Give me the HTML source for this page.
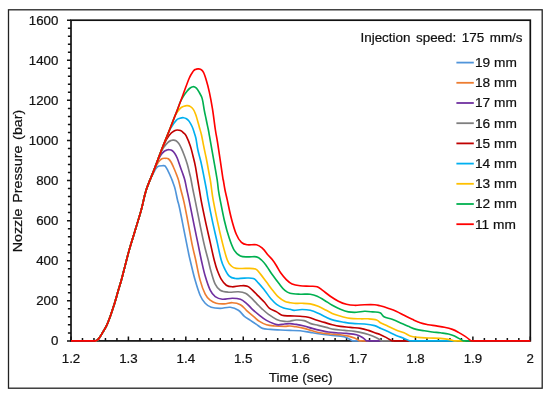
<!DOCTYPE html>
<html><head><meta charset="utf-8"><title>Nozzle pressure chart</title>
<style>
html,body{margin:0;padding:0;background:#fff;}
body{width:550px;height:398px;position:relative;overflow:hidden;font-family:"Liberation Sans",sans-serif;color:#111;}
.t{position:absolute;font-size:13.3px;line-height:16px;white-space:nowrap;-webkit-text-stroke:0.22px #111;}
.yl{text-align:right;width:40px;left:18.4px;}
.xl{text-align:center;width:40px;}
</style></head><body>
<svg width="550" height="398" viewBox="0 0 550 398" style="position:absolute;left:0;top:0">
<rect x="8.5" y="9.8" width="533.7" height="378.4" fill="#fff" stroke="#222" stroke-width="1.3"/>
<rect x="71.0" y="20.2" width="459.3" height="320.7" fill="none" stroke="#111" stroke-width="1.7"/>
<path d="M71.00 340.9v-4.5M82.48 340.9v-3M93.97 340.9v-3M105.45 340.9v-3M116.93 340.9v-3M128.41 340.9v-4.5M139.89 340.9v-3M151.38 340.9v-3M162.86 340.9v-3M174.34 340.9v-3M185.82 340.9v-4.5M197.31 340.9v-3M208.79 340.9v-3M220.27 340.9v-3M231.75 340.9v-3M243.24 340.9v-4.5M254.72 340.9v-3M266.20 340.9v-3M277.69 340.9v-3M289.17 340.9v-3M300.65 340.9v-4.5M312.13 340.9v-3M323.61 340.9v-3M335.10 340.9v-3M346.58 340.9v-3M358.06 340.9v-4.5M369.54 340.9v-3M381.03 340.9v-3M392.51 340.9v-3M403.99 340.9v-3M415.47 340.9v-4.5M426.96 340.9v-3M438.44 340.9v-3M449.92 340.9v-3M461.40 340.9v-3M472.89 340.9v-4.5M484.37 340.9v-3M495.85 340.9v-3M507.33 340.9v-3M518.82 340.9v-3M530.30 340.9v-4.5M71.0 340.90h-4.0M71.0 332.88h-3.1M71.0 324.86h-3.1M71.0 316.85h-3.1M71.0 308.83h-3.1M71.0 300.81h-4.0M71.0 292.79h-3.1M71.0 284.78h-3.1M71.0 276.76h-3.1M71.0 268.74h-3.1M71.0 260.72h-4.0M71.0 252.71h-3.1M71.0 244.69h-3.1M71.0 236.67h-3.1M71.0 228.65h-3.1M71.0 220.64h-4.0M71.0 212.62h-3.1M71.0 204.60h-3.1M71.0 196.58h-3.1M71.0 188.57h-3.1M71.0 180.55h-4.0M71.0 172.53h-3.1M71.0 164.51h-3.1M71.0 156.50h-3.1M71.0 148.48h-3.1M71.0 140.46h-4.0M71.0 132.44h-3.1M71.0 124.43h-3.1M71.0 116.41h-3.1M71.0 108.39h-3.1M71.0 100.37h-4.0M71.0 92.36h-3.1M71.0 84.34h-3.1M71.0 76.32h-3.1M71.0 68.31h-3.1M71.0 60.29h-4.0M71.0 52.27h-3.1M71.0 44.25h-3.1M71.0 36.23h-3.1M71.0 28.22h-3.1M71.0 20.20h-4.0" stroke="#111" stroke-width="1.5" fill="none"/>
<path d="M95.4 340.9C95.8 340.7 96.9 340.5 97.8 339.7C98.7 338.9 99.3 337.9 100.3 336.4C101.3 334.9 102.1 333.4 103.3 331.4C104.5 329.4 105.4 328.0 106.7 325.3C108.0 322.6 108.9 320.1 110.3 316.3C111.7 312.5 112.8 308.9 114.3 304.2C115.8 299.5 117.1 294.5 118.4 290.1C119.7 285.7 120.4 283.6 121.4 280.0C122.4 276.4 122.6 275.3 124.0 270.0C125.4 264.7 127.1 257.6 129.1 250.4C131.1 243.2 133.0 237.5 135.2 230.2C137.4 222.9 139.2 217.3 141.2 210.1C143.2 202.9 144.5 195.6 146.2 190.0C147.9 184.4 149.1 182.2 150.5 179.0C151.9 175.8 152.9 174.1 154.0 172.0C155.1 169.9 155.9 168.7 156.8 167.6C157.7 166.5 158.0 166.3 159.0 166.0C160.0 165.7 161.1 165.7 162.2 165.7C163.3 165.7 164.1 165.1 165.2 166.1C166.3 167.1 167.2 169.4 168.1 171.1C169.0 172.8 169.5 174.0 170.2 175.6C170.9 177.2 171.5 178.5 172.1 180.1C172.7 181.7 173.1 182.9 173.7 184.6C174.3 186.3 174.5 186.6 175.2 189.4C175.9 192.2 176.7 196.6 177.5 200.0C178.3 203.4 178.4 202.7 179.6 208.2C180.8 213.7 182.5 222.7 184.0 230.3C185.5 237.9 186.9 245.1 188.0 250.4C189.1 255.7 188.8 254.7 190.1 260.0C191.4 265.3 193.3 273.8 195.1 280.1C196.9 286.4 198.3 291.0 200.1 295.2C201.9 299.4 203.2 301.1 205.2 303.3C207.2 305.5 208.5 306.4 211.2 307.3C213.9 308.2 216.8 308.3 220.2 308.3C223.6 308.3 227.0 306.9 230.3 307.3C233.6 307.7 235.9 308.7 238.4 310.3C240.9 311.9 242.2 314.5 244.4 316.3C246.6 318.1 248.2 318.9 250.4 320.4C252.6 321.9 254.3 323.0 256.5 324.4C258.7 325.8 260.0 327.5 262.5 328.4C265.0 329.3 267.2 329.1 270.5 329.4C273.8 329.7 277.1 329.8 280.6 330.0C284.1 330.2 286.5 330.3 290.0 330.4C293.5 330.5 296.5 330.4 300.1 330.8C303.7 331.2 306.6 331.8 310.2 332.4C313.8 333.0 316.6 333.5 320.2 334.0C323.8 334.5 326.7 334.8 330.3 335.2C333.9 335.6 337.5 335.7 340.4 336.1C343.3 336.5 344.2 336.6 346.4 337.5C348.6 338.4 351.3 340.3 352.4 340.9L361.5 340.9" fill="none" stroke="#5095DA" stroke-width="1.65" stroke-linejoin="round" stroke-linecap="butt"/>
<path d="M95.4 340.9C95.8 340.7 96.9 340.5 97.8 339.7C98.7 338.9 99.3 337.9 100.3 336.4C101.3 334.9 102.1 333.4 103.3 331.4C104.5 329.4 105.4 328.0 106.7 325.3C108.0 322.6 108.9 320.1 110.3 316.3C111.7 312.5 112.8 308.9 114.3 304.2C115.8 299.5 117.1 294.5 118.4 290.1C119.7 285.7 120.4 283.6 121.4 280.0C122.4 276.4 122.6 275.3 124.0 270.0C125.4 264.7 127.1 257.6 129.1 250.4C131.1 243.2 133.0 237.5 135.2 230.2C137.4 222.9 139.2 217.3 141.2 210.1C143.2 202.9 144.0 196.9 146.2 190.0C148.4 183.1 151.3 176.6 153.3 172.0C155.2 167.4 155.8 166.6 157.0 164.5C158.2 162.4 159.0 161.4 160.0 160.3C161.0 159.2 161.5 159.0 162.5 158.6C163.5 158.2 164.5 158.3 165.5 158.3C166.5 158.3 167.3 158.1 168.3 158.8C169.3 159.5 170.0 160.4 171.0 162.0C172.0 163.6 172.6 165.3 173.6 167.5C174.6 169.7 175.4 171.7 176.3 174.0C177.2 176.3 177.8 177.5 178.6 180.4C179.4 183.3 179.9 186.1 180.9 190.0C181.9 193.9 182.7 196.3 184.0 202.1C185.3 207.9 186.5 214.7 188.0 222.3C189.5 229.9 190.7 237.6 192.1 244.4C193.5 251.2 194.3 253.6 195.7 260.0C197.1 266.4 198.4 273.9 200.1 280.1C201.8 286.3 203.4 290.6 205.2 294.2C207.0 297.8 208.2 298.6 210.2 300.2C212.2 301.8 213.7 302.6 216.2 303.3C218.7 304.0 221.4 304.0 224.3 303.9C227.2 303.8 229.4 302.6 232.3 302.7C235.2 302.8 237.9 303.3 240.4 304.7C242.9 306.1 244.1 308.2 246.4 310.3C248.7 312.4 251.0 314.3 253.4 316.3C255.8 318.3 257.1 319.9 259.5 321.4C261.9 322.9 263.8 324.0 266.5 324.8C269.2 325.6 271.3 325.7 274.6 326.0C277.9 326.3 281.8 326.4 284.6 326.4C287.4 326.4 287.9 325.9 290.0 326.0C292.1 326.1 293.6 326.4 296.1 326.8C298.6 327.2 301.2 327.7 304.1 328.4C307.0 329.1 309.3 330.0 312.2 330.8C315.1 331.6 316.9 332.2 320.2 332.8C323.5 333.4 326.7 333.6 330.3 334.0C333.9 334.4 337.1 334.4 340.4 334.8C343.7 335.2 345.9 335.5 348.4 336.1C350.9 336.7 352.5 337.2 354.5 338.1C356.5 339.0 358.6 340.4 359.5 340.9L368.5 340.9" fill="none" stroke="#ED7D31" stroke-width="1.65" stroke-linejoin="round" stroke-linecap="butt"/>
<path d="M95.4 340.9C95.8 340.7 96.9 340.5 97.8 339.7C98.7 338.9 99.3 337.9 100.3 336.4C101.3 334.9 102.1 333.4 103.3 331.4C104.5 329.4 105.4 328.0 106.7 325.3C108.0 322.6 108.9 320.1 110.3 316.3C111.7 312.5 112.8 308.9 114.3 304.2C115.8 299.5 117.1 294.5 118.4 290.1C119.7 285.7 120.4 283.6 121.4 280.0C122.4 276.4 122.6 275.3 124.0 270.0C125.4 264.7 127.1 257.6 129.1 250.4C131.1 243.2 133.0 237.5 135.2 230.2C137.4 222.9 139.2 217.3 141.2 210.1C143.2 202.9 143.9 197.1 146.2 190.0C148.5 182.9 152.0 175.3 153.9 170.4C155.8 165.5 155.5 165.7 156.7 163.0C157.8 160.3 159.2 157.6 160.5 155.5C161.8 153.4 162.8 152.5 164.0 151.5C165.2 150.5 166.1 150.3 167.0 150.0C167.9 149.7 168.3 149.6 169.2 149.7C170.1 149.8 171.0 149.8 172.0 150.5C173.0 151.2 173.8 152.1 174.8 153.5C175.8 154.9 176.4 156.1 177.3 158.3C178.2 160.6 179.1 163.4 180.0 166.0C180.9 168.6 181.6 170.5 182.5 173.0C183.4 175.5 184.0 176.9 184.8 180.0C185.6 183.1 186.1 186.4 186.9 190.0C187.7 193.6 188.0 194.7 189.1 200.1C190.2 205.5 191.6 212.6 193.1 220.2C194.6 227.8 196.2 235.2 197.7 242.4C199.2 249.6 200.0 253.9 201.3 260.0C202.7 266.1 203.6 270.7 205.2 276.1C206.8 281.5 208.4 286.5 210.2 290.2C212.0 293.9 213.0 295.0 215.2 296.6C217.4 298.2 219.2 298.9 222.3 299.2C225.4 299.5 229.0 298.2 232.3 298.2C235.6 298.2 237.9 298.3 240.4 299.2C242.9 300.1 244.2 301.5 246.4 303.3C248.6 305.1 250.0 307.1 252.4 309.3C254.8 311.5 257.0 313.3 259.5 315.3C262.0 317.3 263.8 318.8 266.5 320.4C269.2 322.0 272.4 323.2 274.6 324.0C276.8 324.8 276.8 324.8 278.6 324.8C280.4 324.8 282.5 324.2 284.6 324.0C286.7 323.8 287.9 323.5 290.0 323.6C292.1 323.7 293.6 324.0 296.1 324.4C298.6 324.8 301.2 325.3 304.1 326.0C307.0 326.7 309.3 327.6 312.2 328.4C315.1 329.2 317.3 329.8 320.2 330.4C323.1 331.0 325.4 331.6 328.3 332.0C331.2 332.4 333.0 332.5 336.3 332.8C339.6 333.1 342.8 333.0 346.4 333.4C350.0 333.8 353.6 334.1 356.5 334.8C359.4 335.5 360.7 336.4 362.5 337.5C364.3 338.6 365.8 340.3 366.5 340.9L383.0 340.9" fill="none" stroke="#7030A0" stroke-width="1.65" stroke-linejoin="round" stroke-linecap="butt"/>
<path d="M95.4 340.9C95.8 340.7 96.9 340.5 97.8 339.7C98.7 338.9 99.3 337.9 100.3 336.4C101.3 334.9 102.1 333.4 103.3 331.4C104.5 329.4 105.4 328.0 106.7 325.3C108.0 322.6 108.9 320.1 110.3 316.3C111.7 312.5 112.8 308.9 114.3 304.2C115.8 299.5 117.1 294.5 118.4 290.1C119.7 285.7 120.4 283.6 121.4 280.0C122.4 276.4 122.6 275.3 124.0 270.0C125.4 264.7 127.1 257.6 129.1 250.4C131.1 243.2 133.0 237.5 135.2 230.2C137.4 222.9 139.2 217.3 141.2 210.1C143.2 202.9 143.9 197.1 146.2 190.0C148.5 182.9 151.5 176.7 153.9 170.4C156.3 164.1 157.8 159.2 159.6 155.0C161.5 150.8 162.5 149.3 164.0 147.0C165.5 144.7 166.7 143.5 168.0 142.3C169.3 141.1 170.0 140.9 171.0 140.5C172.0 140.1 172.4 140.0 173.3 140.1C174.2 140.2 175.0 140.2 176.0 140.8C177.0 141.4 177.8 142.2 178.8 143.5C179.8 144.8 180.3 145.9 181.3 148.2C182.3 150.4 183.4 153.1 184.5 156.0C185.6 158.9 186.3 160.9 187.3 164.3C188.3 167.7 189.3 172.2 190.0 175.0C190.7 177.8 190.6 177.3 191.1 180.0C191.6 182.7 192.3 186.4 193.0 190.0C193.7 193.6 194.0 194.7 195.1 200.1C196.2 205.5 197.6 212.6 199.1 220.2C200.6 227.8 202.1 235.2 203.7 242.4C205.3 249.6 206.8 254.7 208.2 260.0C209.5 265.3 209.9 267.8 211.2 272.1C212.5 276.4 213.6 280.8 215.2 284.1C216.8 287.4 217.8 288.7 220.2 290.2C222.6 291.7 225.0 291.9 228.3 292.2C231.6 292.5 235.3 291.6 238.4 291.8C241.5 292.0 243.2 292.2 245.4 293.2C247.6 294.2 248.4 295.4 250.4 297.2C252.4 299.0 254.3 301.1 256.5 303.3C258.7 305.5 260.3 307.3 262.5 309.3C264.7 311.3 266.0 312.5 268.5 314.3C271.0 316.1 273.7 318.1 276.6 319.4C279.5 320.7 282.2 321.1 284.6 321.4C287.0 321.7 287.9 321.5 290.0 321.2C292.1 320.9 293.6 320.1 296.1 320.0C298.6 319.9 301.6 320.0 304.1 320.6C306.6 321.2 307.7 322.5 310.2 323.4C312.7 324.3 315.3 324.7 318.2 325.4C321.1 326.1 323.4 326.7 326.3 327.4C329.2 328.1 331.0 328.9 334.3 329.4C337.6 329.9 340.8 330.0 344.4 330.4C348.0 330.8 350.9 330.9 354.5 331.4C358.1 331.9 361.2 332.6 364.5 333.4C367.8 334.2 369.9 335.0 372.6 336.1C375.3 337.2 378.1 338.6 379.6 339.5C381.1 340.4 380.7 340.6 381.0 340.9L394.1 340.9" fill="none" stroke="#7F7F7F" stroke-width="1.65" stroke-linejoin="round" stroke-linecap="butt"/>
<path d="M95.4 340.9C95.8 340.7 96.9 340.5 97.8 339.7C98.7 338.9 99.3 337.9 100.3 336.4C101.3 334.9 102.1 333.4 103.3 331.4C104.5 329.4 105.4 328.0 106.7 325.3C108.0 322.6 108.9 320.1 110.3 316.3C111.7 312.5 112.8 308.9 114.3 304.2C115.8 299.5 117.1 294.5 118.4 290.1C119.7 285.7 120.4 283.6 121.4 280.0C122.4 276.4 122.6 275.3 124.0 270.0C125.4 264.7 127.1 257.6 129.1 250.4C131.1 243.2 133.0 237.5 135.2 230.2C137.4 222.9 139.2 217.3 141.2 210.1C143.2 202.9 143.9 197.1 146.2 190.0C148.5 182.9 151.1 177.6 153.9 170.4C156.7 163.2 159.9 154.2 161.5 150.0C163.1 145.8 161.7 149.1 162.7 147.0C163.7 144.9 165.5 141.0 167.0 138.5C168.5 136.0 169.7 134.7 171.0 133.3C172.3 131.9 173.4 131.4 174.5 130.8C175.6 130.2 176.2 130.0 177.3 130.0C178.4 130.0 179.4 130.1 180.5 130.6C181.6 131.1 182.5 131.8 183.5 132.8C184.5 133.8 185.1 133.8 186.3 136.2C187.5 138.6 189.2 142.6 190.4 146.2C191.6 149.8 192.1 152.4 193.0 156.0C193.9 159.6 194.6 162.0 195.4 166.3C196.2 170.6 197.0 175.7 197.7 180.0C198.4 184.3 198.8 186.4 199.4 190.0C200.0 193.6 200.1 194.7 201.1 200.1C202.1 205.5 203.6 212.6 205.2 220.2C206.8 227.8 208.6 235.2 210.2 242.4C211.8 249.6 212.9 255.0 214.2 260.0C215.5 265.0 215.9 266.7 217.2 270.1C218.5 273.5 219.6 276.4 221.2 279.1C222.8 281.8 224.3 283.8 226.3 285.2C228.3 286.6 229.8 286.7 232.3 286.8C234.8 286.9 237.7 285.9 240.4 285.8C243.1 285.7 245.2 285.4 247.4 286.2C249.6 287.0 250.4 288.4 252.4 290.2C254.4 292.0 256.3 294.0 258.5 296.2C260.7 298.4 262.5 300.1 264.5 302.3C266.5 304.5 267.3 306.6 269.5 308.3C271.7 310.0 274.4 310.6 276.6 311.9C278.9 313.2 279.6 314.6 282.0 315.3C284.4 316.0 286.8 315.7 290.1 315.9C293.4 316.1 296.8 316.0 300.1 316.3C303.4 316.6 305.3 316.6 308.2 317.3C311.1 318.0 313.3 319.1 316.2 320.0C319.1 320.9 321.4 321.5 324.3 322.4C327.2 323.3 329.4 324.1 332.3 324.8C335.2 325.5 337.1 325.9 340.4 326.4C343.7 326.9 346.8 327.0 350.4 327.4C354.0 327.8 357.2 327.9 360.5 328.4C363.8 328.9 365.6 329.5 368.5 330.4C371.4 331.3 374.5 332.7 376.6 333.4C378.7 334.1 378.3 333.7 380.0 334.4C381.7 335.1 383.8 336.2 386.0 337.4C388.2 338.6 391.0 340.3 392.1 340.9L412.2 340.9" fill="none" stroke="#C00000" stroke-width="1.65" stroke-linejoin="round" stroke-linecap="butt"/>
<path d="M95.4 340.9C95.8 340.7 96.9 340.5 97.8 339.7C98.7 338.9 99.3 337.9 100.3 336.4C101.3 334.9 102.1 333.4 103.3 331.4C104.5 329.4 105.4 328.0 106.7 325.3C108.0 322.6 108.9 320.1 110.3 316.3C111.7 312.5 112.8 308.9 114.3 304.2C115.8 299.5 117.1 294.5 118.4 290.1C119.7 285.7 120.4 283.6 121.4 280.0C122.4 276.4 122.6 275.3 124.0 270.0C125.4 264.7 127.1 257.6 129.1 250.4C131.1 243.2 133.0 237.5 135.2 230.2C137.4 222.9 139.2 217.3 141.2 210.1C143.2 202.9 143.9 197.1 146.2 190.0C148.5 182.9 151.1 177.6 153.9 170.4C156.7 163.2 158.9 156.7 161.5 150.0C164.1 143.3 166.6 137.1 168.3 133.0C170.0 128.9 169.7 129.8 171.1 127.5C172.5 125.2 174.6 122.1 176.2 120.4C177.8 118.7 178.7 118.8 180.0 118.3C181.3 117.8 182.3 117.6 183.5 117.7C184.7 117.8 185.5 118.1 186.5 118.8C187.5 119.5 188.2 119.9 189.2 121.4C190.2 122.9 191.4 125.0 192.3 127.0C193.2 129.0 193.6 130.5 194.2 132.5C194.8 134.5 195.2 135.0 195.9 138.2C196.6 141.3 197.0 145.7 197.9 150.0C198.8 154.3 199.9 157.3 201.0 162.3C202.1 167.3 203.2 173.0 204.2 178.0C205.2 183.0 205.8 186.0 206.5 190.0C207.2 194.0 207.2 194.7 208.2 200.1C209.2 205.5 210.6 212.6 212.2 220.2C213.8 227.8 215.6 235.2 217.2 242.4C218.8 249.6 219.9 255.4 221.2 260.0C222.5 264.6 222.8 265.1 224.3 268.0C225.8 270.9 227.3 274.2 229.3 276.1C231.3 278.0 232.6 278.1 235.3 278.5C238.0 278.9 241.1 278.1 244.4 278.1C247.7 278.1 250.9 277.6 253.4 278.5C255.9 279.4 256.5 281.0 258.5 283.1C260.5 285.2 262.3 287.5 264.5 290.2C266.7 292.9 268.3 295.7 270.5 298.2C272.7 300.7 274.2 302.6 276.6 304.3C279.0 306.0 281.2 307.0 283.6 307.9C286.0 308.8 288.1 308.9 290.0 309.3C291.9 309.7 291.9 310.3 294.1 310.3C296.3 310.3 299.2 309.5 302.1 309.5C305.0 309.5 307.3 309.6 310.2 310.3C313.1 311.0 315.3 312.0 318.2 313.3C321.1 314.6 323.4 316.0 326.3 317.3C329.2 318.6 331.4 319.6 334.3 320.4C337.2 321.2 339.1 321.5 342.4 322.0C345.7 322.5 348.4 323.0 352.4 323.4C356.4 323.8 360.5 323.6 364.5 324.0C368.5 324.4 371.6 324.8 374.6 325.6C377.6 326.4 378.6 327.4 381.0 328.5C383.4 329.6 385.3 330.4 388.0 331.6C390.7 332.8 393.2 334.2 396.1 335.4C399.0 336.6 401.6 337.4 404.1 338.4C406.6 339.4 409.1 340.4 410.2 340.9L456.5 340.9" fill="none" stroke="#00B0F0" stroke-width="1.65" stroke-linejoin="round" stroke-linecap="butt"/>
<path d="M95.4 340.9C95.8 340.7 96.9 340.5 97.8 339.7C98.7 338.9 99.3 337.9 100.3 336.4C101.3 334.9 102.1 333.4 103.3 331.4C104.5 329.4 105.4 328.0 106.7 325.3C108.0 322.6 108.9 320.1 110.3 316.3C111.7 312.5 112.8 308.9 114.3 304.2C115.8 299.5 117.1 294.5 118.4 290.1C119.7 285.7 120.4 283.6 121.4 280.0C122.4 276.4 122.6 275.3 124.0 270.0C125.4 264.7 127.1 257.6 129.1 250.4C131.1 243.2 133.0 237.5 135.2 230.2C137.4 222.9 139.2 217.3 141.2 210.1C143.2 202.9 143.9 197.1 146.2 190.0C148.5 182.9 151.1 177.6 153.9 170.4C156.7 163.2 158.7 157.3 161.5 150.0C164.3 142.7 167.4 135.2 169.5 130.0C171.6 124.8 172.0 123.6 173.0 121.0C174.0 118.4 173.9 117.7 175.2 115.4C176.5 113.1 178.6 110.1 180.2 108.4C181.8 106.7 182.7 106.7 184.0 106.2C185.3 105.7 186.0 105.5 187.2 105.6C188.4 105.7 189.4 105.9 190.5 106.6C191.6 107.3 192.4 108.1 193.3 109.4C194.2 110.7 194.7 112.0 195.5 114.0C196.3 116.0 196.8 118.1 197.5 120.4C198.2 122.7 198.6 124.4 199.3 127.0C200.0 129.6 200.7 131.5 201.5 135.0C202.3 138.5 202.9 142.1 203.7 146.2C204.5 150.3 205.3 153.6 206.2 158.0C207.1 162.4 207.8 166.4 208.5 170.4C209.2 174.4 209.7 176.5 210.3 180.0C210.9 183.5 211.2 186.4 211.7 190.0C212.2 193.6 212.2 194.7 213.2 200.1C214.2 205.5 215.6 212.6 217.2 220.2C218.8 227.8 220.5 235.2 222.3 242.4C224.1 249.6 225.7 255.8 227.3 260.0C228.9 264.2 229.7 264.5 231.3 266.0C232.9 267.5 233.6 268.0 236.3 268.4C239.0 268.8 242.9 268.3 246.4 268.4C249.9 268.5 253.0 268.1 255.5 269.1C258.0 270.1 258.5 271.8 260.5 274.1C262.5 276.4 264.3 279.2 266.5 282.1C268.7 285.0 270.4 287.5 272.6 290.2C274.8 292.9 276.4 295.2 278.6 297.2C280.8 299.2 282.5 300.2 284.6 301.2C286.7 302.2 288.3 302.3 290.0 302.7C291.7 303.1 291.9 303.2 294.1 303.3C296.3 303.4 299.2 303.2 302.1 303.3C305.0 303.4 307.3 303.4 310.2 303.9C313.1 304.4 315.3 305.1 318.2 306.3C321.1 307.5 323.4 308.9 326.3 310.3C329.2 311.7 331.4 313.1 334.3 314.3C337.2 315.5 339.5 316.0 342.4 316.7C345.3 317.4 347.1 318.0 350.4 318.4C353.7 318.8 357.2 318.7 360.5 318.8C363.8 318.9 365.6 318.6 368.5 318.8C371.4 319.0 374.4 319.2 376.6 320.0C378.9 320.8 378.9 321.9 381.0 323.0C383.1 324.1 385.3 325.0 388.0 326.3C390.7 327.6 393.2 328.8 396.1 330.0C399.0 331.2 401.6 331.7 404.1 332.8C406.6 333.9 407.7 335.2 410.2 336.0C412.7 336.8 414.9 337.0 418.2 337.4C421.5 337.8 424.3 337.8 428.3 338.0C432.3 338.2 436.8 338.1 440.4 338.4C444.0 338.7 445.9 338.9 448.4 339.4C450.9 339.8 453.4 340.6 454.5 340.9L465.5 340.9" fill="none" stroke="#FFC000" stroke-width="1.65" stroke-linejoin="round" stroke-linecap="butt"/>
<path d="M95.4 340.9C95.8 340.7 96.9 340.5 97.8 339.7C98.7 338.9 99.3 337.9 100.3 336.4C101.3 334.9 102.1 333.4 103.3 331.4C104.5 329.4 105.4 328.0 106.7 325.3C108.0 322.6 108.9 320.1 110.3 316.3C111.7 312.5 112.8 308.9 114.3 304.2C115.8 299.5 117.1 294.5 118.4 290.1C119.7 285.7 120.4 283.6 121.4 280.0C122.4 276.4 122.6 275.3 124.0 270.0C125.4 264.7 127.1 257.6 129.1 250.4C131.1 243.2 133.0 237.5 135.2 230.2C137.4 222.9 139.2 217.3 141.2 210.1C143.2 202.9 143.9 197.1 146.2 190.0C148.5 182.9 151.1 177.6 153.9 170.4C156.7 163.2 158.7 157.3 161.5 150.0C164.3 142.7 166.7 137.2 169.5 130.0C172.3 122.8 175.4 115.0 177.3 110.0C179.2 105.0 179.2 104.5 180.3 102.0C181.4 99.5 182.4 97.7 183.5 96.0C184.6 94.3 185.1 93.6 186.2 92.3C187.3 91.0 188.3 89.5 189.5 88.5C190.7 87.5 191.7 86.8 192.9 86.7C194.1 86.6 195.3 87.2 196.4 88.2C197.5 89.2 198.1 90.3 199.1 92.2C200.1 94.1 201.3 95.3 202.2 98.6C203.1 101.9 203.6 106.5 204.3 110.4C205.0 114.3 205.6 116.5 206.3 120.0C207.0 123.5 207.8 127.1 208.4 130.0C209.0 132.9 208.4 130.0 209.5 136.2C210.6 142.4 213.1 156.4 214.5 164.3C215.9 172.2 216.5 175.4 217.2 180.0C217.9 184.6 217.9 186.4 218.4 190.0C218.9 193.6 219.1 194.7 220.2 200.1C221.3 205.5 222.7 213.3 224.3 220.2C225.9 227.1 227.5 232.9 229.3 238.3C231.1 243.7 232.3 247.2 234.3 250.4C236.3 253.6 237.9 254.8 240.4 256.0C242.9 257.2 245.5 256.7 248.4 256.9C251.3 257.1 254.1 256.3 256.5 256.9C258.9 257.5 259.7 258.4 261.5 260.0C263.3 261.6 264.5 263.3 266.5 266.0C268.5 268.7 270.4 272.0 272.6 275.1C274.8 278.2 276.4 280.4 278.6 283.1C280.8 285.8 282.5 288.4 284.6 290.2C286.7 292.0 287.2 292.5 290.0 293.2C292.8 293.9 296.5 294.0 300.1 294.2C303.7 294.4 307.1 293.8 310.2 294.2C313.3 294.6 314.7 295.1 317.2 296.2C319.7 297.3 321.6 298.6 324.3 300.2C327.0 301.8 329.4 303.7 332.3 305.3C335.2 306.9 337.5 308.1 340.4 309.3C343.3 310.5 345.5 311.4 348.4 311.9C351.3 312.4 353.6 312.4 356.5 312.3C359.4 312.2 361.6 311.4 364.5 311.3C367.4 311.2 369.8 311.6 372.6 311.9C375.4 312.2 377.9 311.8 380.0 312.7C382.1 313.6 381.8 315.5 384.0 316.7C386.2 317.9 389.2 318.2 392.1 319.3C395.0 320.4 397.2 321.4 400.1 322.7C403.0 324.0 405.3 325.1 408.2 326.3C411.1 327.5 413.3 328.6 416.2 329.4C419.1 330.2 421.4 330.3 424.3 330.8C427.2 331.3 429.4 331.6 432.3 332.0C435.2 332.4 437.5 332.4 440.4 332.8C443.3 333.2 445.9 333.4 448.4 334.0C450.9 334.6 452.3 335.0 454.5 336.0C456.7 337.0 458.9 338.5 460.5 339.4C462.1 340.3 463.0 340.6 463.5 340.9L473.2 340.9" fill="none" stroke="#00B050" stroke-width="1.65" stroke-linejoin="round" stroke-linecap="butt"/>
<path d="M71 340.9L95.4 340.9C95.8 340.7 96.9 340.5 97.8 339.7C98.7 338.9 99.3 337.9 100.3 336.4C101.3 334.9 102.1 333.4 103.3 331.4C104.5 329.4 105.4 328.0 106.7 325.3C108.0 322.6 108.9 320.1 110.3 316.3C111.7 312.5 112.8 308.9 114.3 304.2C115.8 299.5 117.1 294.5 118.4 290.1C119.7 285.7 120.4 283.6 121.4 280.0C122.4 276.4 122.6 275.3 124.0 270.0C125.4 264.7 127.1 257.6 129.1 250.4C131.1 243.2 133.0 237.5 135.2 230.2C137.4 222.9 139.2 217.3 141.2 210.1C143.2 202.9 143.9 197.1 146.2 190.0C148.5 182.9 151.1 177.6 153.9 170.4C156.7 163.2 158.7 157.3 161.5 150.0C164.3 142.7 166.7 137.2 169.5 130.0C172.3 122.8 174.8 116.4 177.3 110.0C179.8 103.6 181.1 100.0 183.2 94.3C185.3 88.6 187.4 82.4 189.2 78.2C191.0 74.0 192.2 72.7 193.3 71.1C194.4 69.5 194.6 69.8 195.4 69.4C196.2 69.0 196.9 68.9 197.9 68.9C198.9 68.9 199.8 68.8 200.8 69.4C201.8 70.0 202.5 70.4 203.5 72.3C204.5 74.2 205.2 76.6 206.3 80.2C207.4 83.8 208.3 87.2 209.4 92.3C210.5 97.4 211.3 101.6 212.4 108.4C213.5 115.2 214.5 123.9 215.4 130.0C216.3 136.1 216.2 133.8 217.5 142.2C218.8 150.6 221.6 169.6 222.6 176.4C223.6 183.2 222.9 177.6 223.3 180.0C223.7 182.4 224.3 186.4 225.0 190.0C225.7 193.6 226.2 195.0 227.3 200.1C228.4 205.2 229.7 212.0 231.3 218.2C232.9 224.4 234.5 229.9 236.3 234.3C238.1 238.7 239.4 240.5 241.4 242.4C243.4 244.3 244.7 244.4 247.4 244.8C250.1 245.2 253.8 244.2 256.5 244.8C259.2 245.4 260.3 246.5 262.5 248.4C264.7 250.3 266.7 253.4 268.5 255.5C270.3 257.6 271.1 258.1 272.6 260.0C274.1 261.9 275.1 263.6 276.6 266.0C278.1 268.4 279.1 270.7 280.8 273.1C282.5 275.5 284.3 277.6 286.3 279.6C288.3 281.6 289.6 282.9 292.1 284.0C294.6 285.1 296.8 285.4 300.1 285.8C303.4 286.2 307.1 286.0 310.2 286.2C313.3 286.4 315.0 286.1 317.2 286.8C319.4 287.5 319.9 288.5 322.3 290.2C324.7 291.9 327.4 294.2 330.3 296.2C333.2 298.2 335.5 299.7 338.4 301.2C341.3 302.7 343.5 303.6 346.4 304.3C349.3 305.0 351.2 305.2 354.5 305.3C357.8 305.4 360.9 304.8 364.5 304.7C368.1 304.6 371.8 304.5 374.6 304.7C377.4 304.9 377.6 305.2 380.0 305.8C382.4 306.4 385.1 307.2 388.0 308.2C390.9 309.2 393.2 309.9 396.1 311.2C399.0 312.5 401.2 313.8 404.1 315.3C407.0 316.8 409.3 318.0 412.2 319.3C415.1 320.6 417.3 321.7 420.2 322.7C423.1 323.7 425.4 324.1 428.3 324.7C431.2 325.3 433.4 325.4 436.3 325.9C439.2 326.4 441.5 326.7 444.4 327.3C447.3 327.9 449.9 328.5 452.4 329.4C454.9 330.3 456.2 331.1 458.5 332.4C460.8 333.7 462.9 334.9 465.2 336.4C467.5 337.9 470.1 340.1 471.2 340.9L530.3 340.9" fill="none" stroke="#FF0000" stroke-width="1.65" stroke-linejoin="round" stroke-linecap="butt"/>
<line x1="456.4" x2="473.8" y1="62.6" y2="62.6" stroke="#5095DA" stroke-width="1.8"/>
<line x1="456.4" x2="473.8" y1="82.8" y2="82.8" stroke="#ED7D31" stroke-width="1.8"/>
<line x1="456.4" x2="473.8" y1="103.0" y2="103.0" stroke="#7030A0" stroke-width="1.8"/>
<line x1="456.4" x2="473.8" y1="123.2" y2="123.2" stroke="#7F7F7F" stroke-width="1.8"/>
<line x1="456.4" x2="473.8" y1="143.4" y2="143.4" stroke="#C00000" stroke-width="1.8"/>
<line x1="456.4" x2="473.8" y1="163.6" y2="163.6" stroke="#00B0F0" stroke-width="1.8"/>
<line x1="456.4" x2="473.8" y1="183.8" y2="183.8" stroke="#FFC000" stroke-width="1.8"/>
<line x1="456.4" x2="473.8" y1="204.0" y2="204.0" stroke="#00B050" stroke-width="1.8"/>
<line x1="456.4" x2="473.8" y1="224.2" y2="224.2" stroke="#FF0000" stroke-width="1.8"/>
</svg>
<div class="t yl" style="top:333.3px">0</div>
<div class="t yl" style="top:293.3px">200</div>
<div class="t yl" style="top:253.2px">400</div>
<div class="t yl" style="top:213.2px">600</div>
<div class="t yl" style="top:173.2px">800</div>
<div class="t yl" style="top:133.1px">1000</div>
<div class="t yl" style="top:93.1px">1200</div>
<div class="t yl" style="top:53.0px">1400</div>
<div class="t yl" style="top:13.0px">1600</div>
<div class="t xl" style="left:51.0px;top:350.5px">1.2</div>
<div class="t xl" style="left:108.4px;top:350.5px">1.3</div>
<div class="t xl" style="left:165.8px;top:350.5px">1.4</div>
<div class="t xl" style="left:223.2px;top:350.5px">1.5</div>
<div class="t xl" style="left:280.6px;top:350.5px">1.6</div>
<div class="t xl" style="left:338.1px;top:350.5px">1.7</div>
<div class="t xl" style="left:395.5px;top:350.5px">1.8</div>
<div class="t xl" style="left:452.9px;top:350.5px">1.9</div>
<div class="t xl" style="left:510.3px;top:350.5px">2</div>
<div class="t" style="left:250.7px;width:100px;text-align:center;top:369.8px;font-size:13.65px">Time (sec)</div>
<div class="t" id="ylab" style="left:-57.2px;top:172.8px;width:150px;text-align:center;transform:rotate(-90deg) scaleX(1.045);word-spacing:1.7px;font-size:13.7px">Nozzle Pressure (bar)</div>
<div class="t" id="ttl" style="left:360.5px;top:29.7px;word-spacing:1.9px;font-size:13.4px">Injection speed: 175 mm/s</div>
<div class="t" style="left:475px;top:55.0px;font-size:13.7px">19 mm</div>
<div class="t" style="left:475px;top:75.2px;font-size:13.7px">18 mm</div>
<div class="t" style="left:475px;top:95.4px;font-size:13.7px">17 mm</div>
<div class="t" style="left:475px;top:115.6px;font-size:13.7px">16 mm</div>
<div class="t" style="left:475px;top:135.8px;font-size:13.7px">15 mm</div>
<div class="t" style="left:475px;top:156.0px;font-size:13.7px">14 mm</div>
<div class="t" style="left:475px;top:176.2px;font-size:13.7px">13 mm</div>
<div class="t" style="left:475px;top:196.4px;font-size:13.7px">12 mm</div>
<div class="t" style="left:475px;top:216.6px;font-size:13.7px">11 mm</div>
</body></html>
